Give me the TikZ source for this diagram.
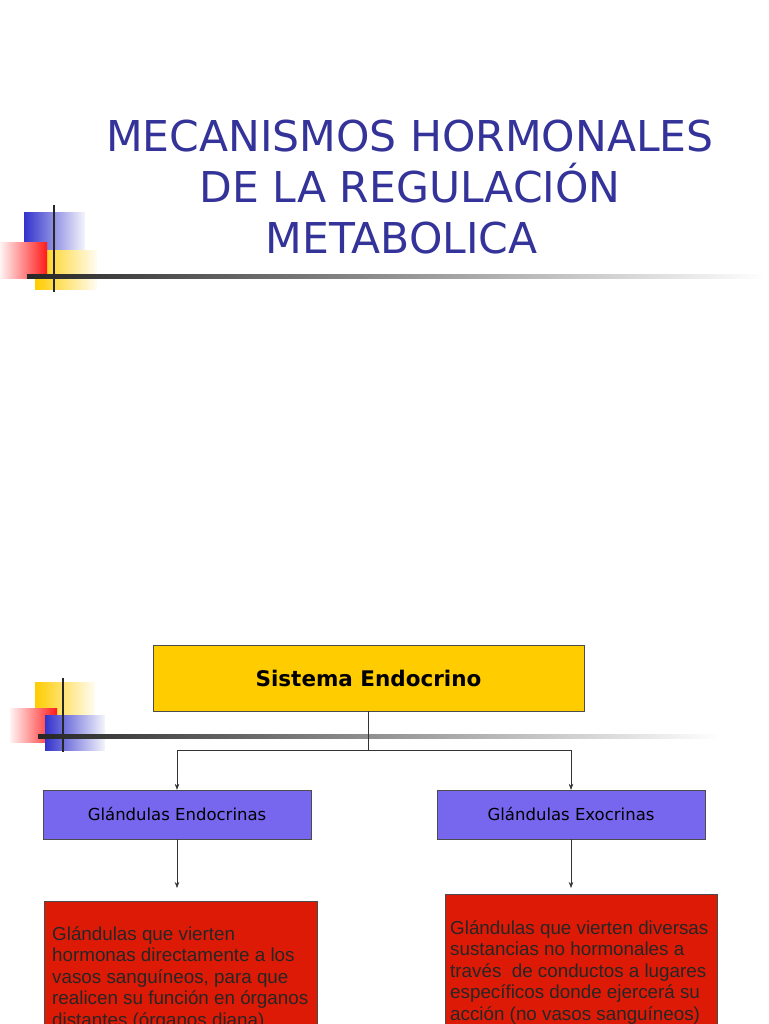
\documentclass[tikz,border=0pt]{standalone}
\usepackage{fontspec}
\setmainfont{DejaVu Sans}
\newfontfamily\bodyfont{Liberation Sans}
\usetikzlibrary{arrows.meta}
\definecolor{titleblue}{HTML}{333399}
\definecolor{sqblue}{HTML}{3333CC}
\definecolor{sqred}{HTML}{FF1A1A}
\definecolor{sqyellow}{HTML}{FFCC00}
\definecolor{boxyellow}{HTML}{FFCC00}
\definecolor{boxpurple}{HTML}{7766EE}
\definecolor{boxred}{HTML}{DD1A05}
\tikzset{
  conn/.style={draw=black!80, line width=0.6pt},
  arr/.style={conn, -{Stealth[length=6pt,width=4.5pt]}},
  purplebox/.style={draw=black!70, fill=boxpurple, minimum width=268pt, minimum height=49pt, font=\fontsize{16.5}{20}\selectfont},
  redtext/.style={font=\bodyfont\fontsize{18.8}{21.5}\selectfont, text=black!85, align=left, anchor=north west, inner sep=0pt}
}
\begin{document}
\begin{tikzpicture}[x=1pt,y=-1pt]
\useasboundingbox (0,0) rectangle (768,1024);
\clip (0,0) rectangle (768,1024);
\node[text=titleblue, font=\fontsize{42.5}{51}\selectfont, align=center] (title) at (410,187) {MECANISMOS HORMONALES\\DE LA REGULACIÓN\\METABOLICA\hspace*{0.4em}};
% decorations
\shade[left color=sqblue, right color=sqblue!5] (24,213) rectangle (85,250);
\shade[left color=sqyellow, right color=sqyellow!5] (35,250) rectangle (97,289);
\shade[right color=sqred, left color=sqred!5] (0,242) rectangle (47,278);
\draw[line width=2pt, black!85] (54,205) -- (54,292);
\shade[left color=black!85, right color=white] (27,274) rectangle (765,278);
\shade[left color=sqyellow, right color=sqyellow!5] (35,682) rectangle (95,720);
\shade[right color=sqred, left color=sqred!5] (10,708) rectangle (57,742);
\shade[left color=sqblue, right color=sqblue!5] (45,715) rectangle (105,750);
\draw[line width=2pt, black!85] (63,678) -- (63,752);
\shade[left color=black!85, right color=white] (38,734) rectangle (720,738);
% chart
\node[draw=black!70, fill=boxyellow, minimum width=431pt, minimum height=66pt, font=\bfseries\fontsize{21.5}{24}\selectfont] (se) at (368.5,678) {Sistema Endocrino};
\node[purplebox] (ge) at (177,814.5) {Glándulas Endocrinas};
\node[purplebox] (gx) at (571,814.5) {Glándulas Exocrinas};
\coordinate (split) at (368.5,750);
\coordinate (sl) at (177,750);
\coordinate (sr) at (571,750);
\draw[conn] (se.south) -- (split);
\draw[conn] (sl) -- (sr);
\draw[arr] (sl) -- (ge.north);
\draw[arr] (sr) -- (gx.north);
\node[draw=black!70, fill=boxred, minimum width=273pt, minimum height=140pt, anchor=north west] (re) at (44,901) {};
\node[draw=black!70, fill=boxred, minimum width=272pt, minimum height=140pt, anchor=north west] (rx) at (445,894) {};
\coordinate (ae) at (177,888);
\coordinate (ax) at (571,888);
\draw[arr] (ge.south) -- (ae);
\draw[arr] (gx.south) -- (ax);
\node[redtext] (te) at (52,926) {Glándulas que vierten\\hormonas directamente a los\\vasos sanguíneos, para que\\realicen su función en órganos\\distantes (órganos diana)};
\node[redtext] (tx) at (450,920) {Glándulas que vierten diversas\\sustancias no hormonales a\\través\ \ de conductos a lugares\\específicos donde ejercerá su\\acción (no vasos sanguíneos)};
\end{tikzpicture}
\end{document}
